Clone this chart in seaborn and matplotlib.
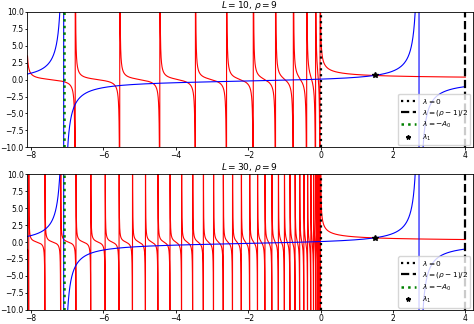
import numpy as np
import matplotlib
matplotlib.use("Agg")
import matplotlib.pyplot as plt
import seaborn as sns

# Panel parameters
L_values = [10, 30]
rho = 9
A0 = 7.1
lambda_1 = 1.49

# Red curves: spacing of their poles in sqrt(-lambda), one entry per panel
red_pole_step = [0.248, 0.080]
red_scale = 1.33

# Blue curve: tangent branch with poles at -A0 and at blue_pole_right
blue_pole_right = 2.72
blue_amp = 0.35
blue_offset = -0.22

lam_min, lam_max = -8.1, (rho - 1) / 2
x_ticks = [-8, -6, -4, -2, 0, 2, 4]
y_ticks = [-10.0, -7.5, -5.0, -2.5, 0.0, 2.5, 5.0, 7.5, 10.0]


def red_curve(lam, step):
    omega = np.pi / step
    out = np.full_like(lam, omega / red_scale)
    neg = lam < -1e-12
    s = np.sqrt(-lam[neg])
    out[neg] = np.tan(omega * s) / (red_scale * s)
    pos = lam > 1e-12
    t = np.sqrt(lam[pos])
    out[pos] = np.tanh(omega * t) / (red_scale * t)
    return out


def blue_curve(lam):
    period = blue_pole_right + A0
    mid = (blue_pole_right - A0) / 2
    return blue_amp * np.tan(np.pi * (lam - mid) / period) + blue_offset


lam = np.linspace(lam_min, lam_max, 30001)
blue = blue_curve(lam)

fig, axes = plt.subplots(2, 1, figsize=(4.74, 3.24), dpi=100)
fig.subplots_adjust(left=0.058, right=0.997, top=0.963, bottom=0.044, hspace=0.2)

for ax, L, step in zip(axes, L_values, red_pole_step):
    red = red_curve(lam, step)
    sns.lineplot(x=lam, y=red, ax=ax, color="r", lw=0.8,
                 estimator=None, sort=False)
    sns.lineplot(x=lam, y=blue, ax=ax, color="b", lw=0.8,
                 estimator=None, sort=False)
    ax.axvline(0, color="k", ls=":", lw=1.6, label=r"$\lambda = 0$")
    ax.axvline((rho - 1) / 2, color="k", ls="--", lw=1.6,
               label=r"$\lambda = (\rho - 1)/2$")
    ax.axvline(-A0, color="g", ls=":", lw=1.8, label=r"$\lambda = -A_0$")
    ax.plot([lambda_1], blue_curve(np.array([lambda_1])), "k*", ms=4,
            lw=0, label=r"$\lambda_1$")
    ax.set_xlim(-8.1, 4.2)
    ax.set_ylim(-10, 10)
    ax.set_xticks(x_ticks)
    ax.set_yticks(y_ticks)
    ax.tick_params(labelsize=5.5, length=1.8, width=0.6, pad=1.0)
    for sp in ax.spines.values():
        sp.set_linewidth(0.6)
    ax.set_title(rf"$L = {L}$, $\rho = {rho}$", fontsize=6.5, pad=1.2)
    ax.legend(loc="lower right", fontsize=5.3, handlelength=2.0,
              borderpad=0.35, labelspacing=0.3, borderaxespad=0.3,
              handletextpad=0.8, markerscale=0.8, framealpha=0.8)

fig.savefig("out.png", dpi=100)
